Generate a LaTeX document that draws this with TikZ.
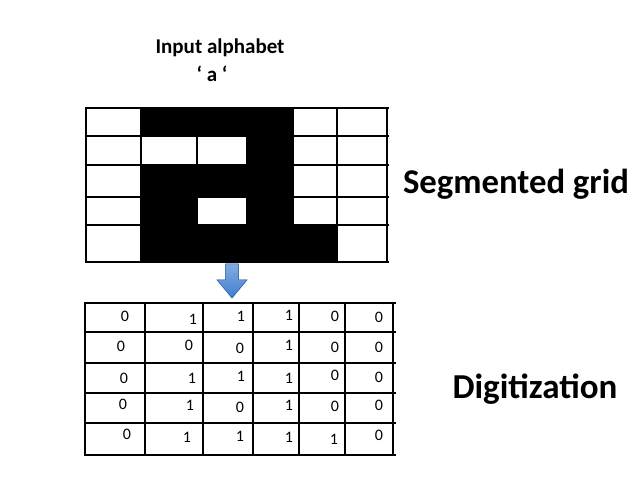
\documentclass[tikz,border=0pt]{standalone}
\usepackage{fontspec}
\usepackage{graphicx}
\setmainfont{Carlito}
\definecolor{arrowblue}{HTML}{3F7FCE}
\definecolor{arrowedge}{HTML}{3565A8}
\begin{document}
\begin{tikzpicture}[x=1pt,y=-1pt,
  gridline/.style={line width=2.6pt,line cap=rect},
  blackcell/.style={fill=black},
  digit/.style={font=\fontsize{16}{16}\selectfont,inner sep=0pt},
  title/.style={font=\bfseries\fontsize{21}{21}\selectfont,inner sep=0pt},
  biglabel/.style={font=\bfseries\fontsize{35}{35}\selectfont,inner sep=0pt}]
\useasboundingbox (0,0) rectangle (638,478);
% ---------- top segmented grid ----------
\def\xs{{86,141,197,247,293,337,387}}
\def\ys{{108,136,165,197,225,262}}
\foreach \x in {86,141,197,247,293,337,387}
  \draw[gridline] (\x,108) -- (\x,262);
\foreach \y in {108,136,165,197,225,262}
  \draw[gridline] (86,\y) -- (388,\y);
\foreach \r/\pat in {0/{0,1,1,1,0,0},1/{0,0,0,1,0,0},2/{0,1,1,1,0,0},3/{0,1,0,1,0,0},4/{0,1,1,1,1,0}}{
  \foreach \v [count=\c from 0] in \pat {
    \ifnum\v=1
      \pgfmathsetmacro{\xa}{\xs[\c]}
      \pgfmathsetmacro{\xb}{\xs[\c+1]}
      \pgfmathsetmacro{\ya}{\ys[\r]}
      \pgfmathsetmacro{\yb}{\ys[\r+1]}
      \fill[blackcell] (\xa-1.3,\ya-1.3) rectangle (\xb+1.3,\yb+1.3);
    \fi
  }
}
\node[title] (inp) at (220,48) {Input alphabet};
\node[title] (ach) at (212,74) {‘ a ‘};
\node[biglabel] (seg) at (516,184) {\resizebox{226pt}{!}{Segmented grid}};
% ---------- arrow ----------
\coordinate (tip) at (232,298);
\fill[top color=arrowblue!65!white, bottom color=arrowblue, draw=arrowedge, line width=0.5pt]
  (225.5,264) -- (238.5,264) -- (238.5,280) -- (247,280) -- (tip)
  -- (217,280) -- (225.5,280) -- cycle;
% ---------- bottom digitization grid ----------
\foreach \x in {85,145,203,253,299,345,393}
  \draw[gridline] (\x,303) -- (\x,455);
\foreach \y in {303,332,363,393,423,455}
  \draw[gridline] (85,\y) -- (395,\y);
\foreach \x/\y/\t [count=\i] in {
  125/316/0,193/319/1,241/316/1,289/315/1,335/316/0,379/317/0,
  121/346/0,189/345/0,240/348/0,289/345/1,335/347/0,379/347/0,
  124/378/0,192/378/1,241/376/1,289/378/1,335/375/0,379/377/0,
  123/404/0,190/405/1,240/407/0,289/405/1,335/406/0,379/405/0,
  127/434/0,187/437/1,240/436/1,289/437/1,334/439/1,379/435/0}
  \node[digit] (d\i) at (\x,\y) {\t};
\node[biglabel] (dig) at (535,389) {Digitization};
\end{tikzpicture}
\end{document}
